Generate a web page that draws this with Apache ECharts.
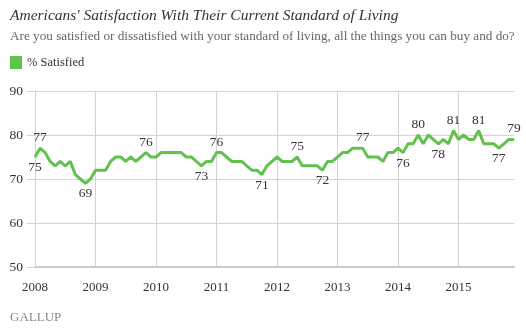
<!DOCTYPE html>
<html><head><meta charset="utf-8">
<script src="https://cdn.jsdelivr.net/npm/echarts@6/dist/echarts.min.js"></script>
<style>html,body{margin:0;padding:0;background:#fff}#c{width:526px;height:329px}</style>
</head><body><div id="c"></div>
<script>
const years = ['2008','2009','2010','2011','2012','2013','2014','2015'];
const satisfied2008 = [75,77,76,74,73,74,73,74,71,70,69,70];
const satisfied2009 = [72,72,72,74,75,75,74,75,74,75,76,75];
const satisfied2010 = [75,76,76,76,76,76,75,75,74,73,74,74];
const satisfied2011 = [76,76,75,74,74,74,73,72,72,71,73,74];
const satisfied2012 = [75,74,74,74,75,73,73,73,73,72,74,74];
const satisfied2013 = [75,76,76,77,77,77,75,75,75,74,76,76];
const satisfied2014 = [77,76,78,78,80,78,80,79,78,79,78,81];
const satisfied2015 = [79,80,79,79,81,78,78,78,77,78,79,79];
// month indices of the annotated points (0 = Jan 2008)
const labelAboveMonths = [1, 22, 36, 52, 65, 76, 83, 88, 95];
const labelBelowMonths = [0, 10, 33, 45, 57, 73, 80, 92];

const values = [].concat(satisfied2008,satisfied2009,satisfied2010,satisfied2011,satisfied2012,satisfied2013,satisfied2014,satisfied2015);
const months = [];
years.forEach(y => { for (let m = 1; m <= 12; m++) months.push(y + '-' + (m < 10 ? '0' + m : m)); });

const font = "'Liberation Serif', 'DejaVu Serif', serif";
const green = '#63c14f';
const tops = new Set(labelAboveMonths);
const bottoms = new Set(labelBelowMonths);

const data = values.map((v, i) => {
  if (tops.has(i)) return {value: v, label: {show: true, position: 'top', distance: 3}};
  if (bottoms.has(i)) return {value: v, label: {show: true, position: 'bottom', distance: 3}};
  return v;
});

const chart = echarts.init(document.getElementById('c'), null, {renderer: 'canvas'});
chart.setOption({
  animation: false,
  textStyle: {fontFamily: font},
  title: [
    {text: "Americans' Satisfaction With Their Current Standard of Living", left: 10, top: 8, padding: 0,
     textStyle: {fontFamily: font, fontStyle: 'italic', fontWeight: 'normal', fontSize: 15.5, color: '#333'}},
    {text: 'Are you satisfied or dissatisfied with your standard of living, all the things you can buy and do?', left: 10, top: 30, padding: 0,
     textStyle: {fontFamily: font, fontWeight: 'normal', fontSize: 13.2, color: '#666'}},
    {text: 'GALLUP', left: 10, top: 311, padding: 0, textStyle: {fontFamily: font, fontWeight: 'normal', fontSize: 13, color: '#888'}}
  ],
  legend: {left: 10, top: 56, padding: 0, icon: 'rect', itemWidth: 12, itemHeight: 13, itemGap: 10,
    textStyle: {fontFamily: font, fontSize: 12.5, color: '#333'},
    data: [{name: '% Satisfied', itemStyle: {color: green, opacity: 1}}]},
  grid: {left: 35, right: 12, top: 91, bottom: 62},
  xAxis: {
    type: 'category', data: months, boundaryGap: false,
    axisLine: {show: true, lineStyle: {color: '#ccc', width: 2}},
    axisTick: {show: false},
    axisLabel: {interval: (i) => i % 12 === 0, formatter: (v) => v.slice(0, 4),
      fontFamily: font, fontSize: 13, color: '#333', margin: 14},
    splitLine: {show: true, interval: (i) => i % 12 === 0, lineStyle: {color: '#d3d3d3', width: 1}}
  },
  yAxis: {
    type: 'value', min: 50, max: 90, interval: 10,
    axisLine: {show: true, lineStyle: {color: '#d3d3d3'}},
    axisTick: {show: true, length: 8, lineStyle: {color: '#d3d3d3'}},
    axisLabel: {fontFamily: font, fontSize: 13.5, color: '#333', margin: 12},
    splitLine: {show: true, lineStyle: {color: '#d3d3d3', width: 1}}
  },
  series: [{
    name: '% Satisfied', type: 'line', data: data, showSymbol: true, showAllSymbol: true,
    symbol: 'circle', symbolSize: 1,
    lineStyle: {color: green, width: 3}, itemStyle: {color: green},
    label: {fontFamily: font, fontSize: 13.5, color: '#333'},
    labelLayout: {hideOverlap: false},
    emphasis: {disabled: true}
  }]
});
</script></body></html>
